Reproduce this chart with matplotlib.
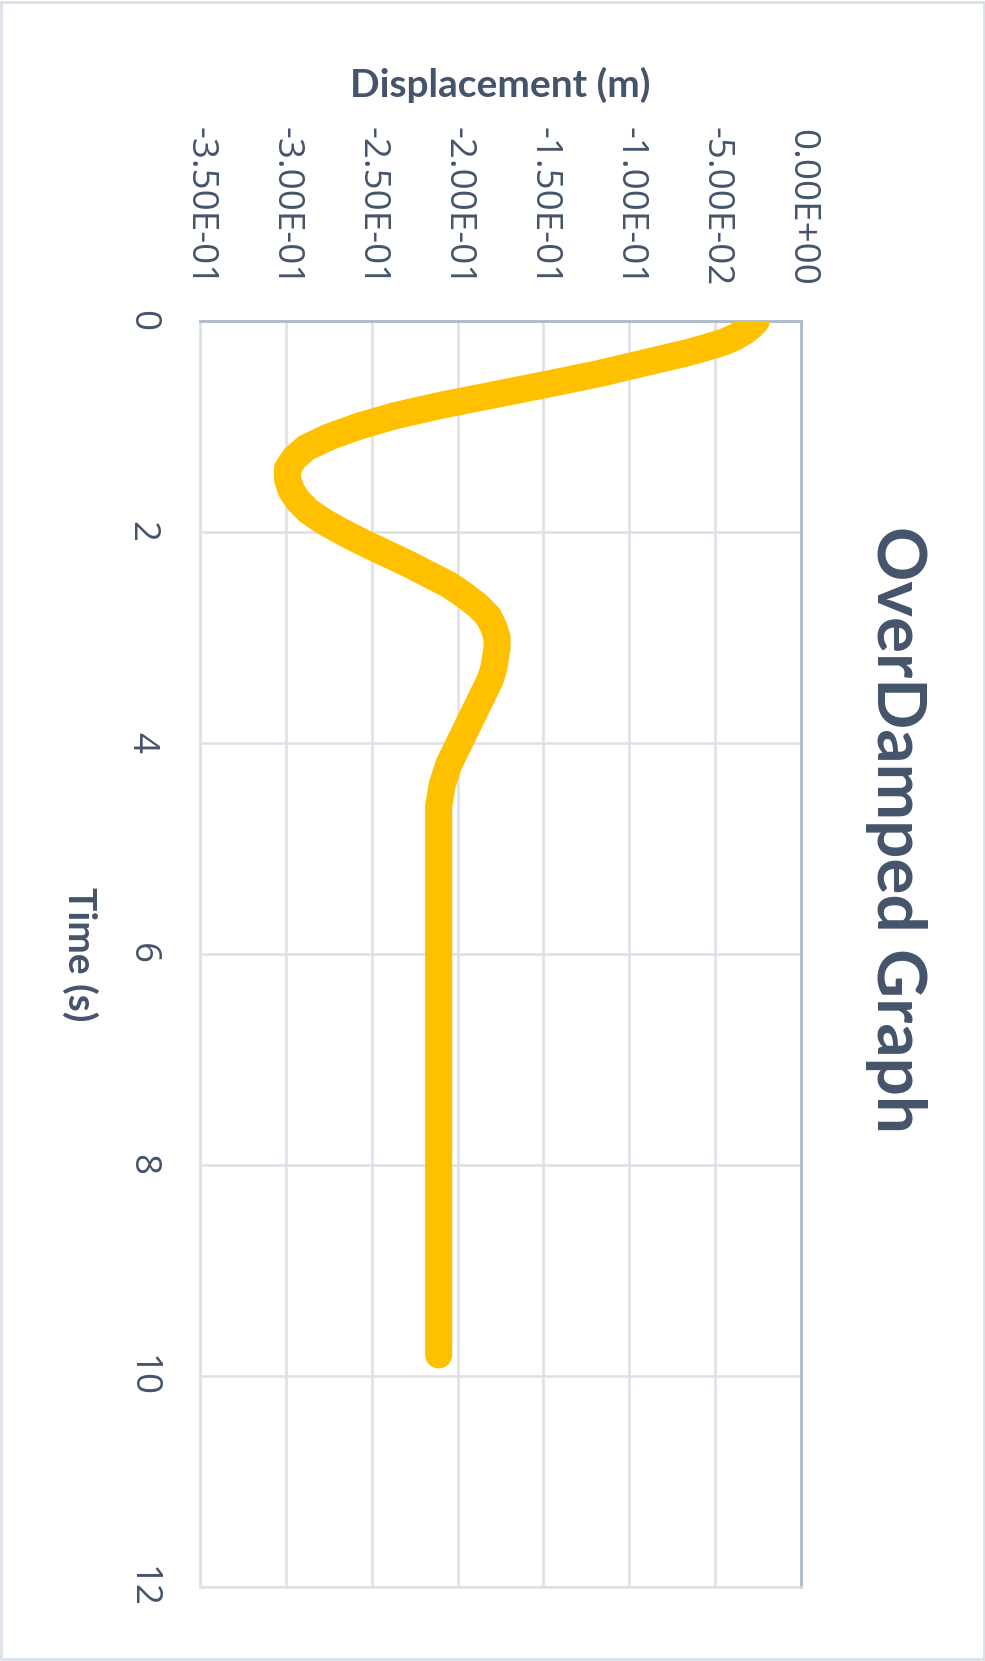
import matplotlib.pyplot as plt
from matplotlib.patches import Rectangle

# time (s) and displacement (m)
time_s = [0.0, 0.05, 0.1, 0.15, 0.2, 0.25, 0.3, 0.4, 0.5, 0.6, 0.7, 0.8, 0.9,
          1.0, 1.1, 1.2, 1.3, 1.4, 1.5, 1.6, 1.7, 1.8, 1.9,
          2.0, 2.1, 2.2, 2.3, 2.4, 2.5, 2.6, 2.7, 2.8, 2.9,
          3.0, 3.1, 3.2, 3.3, 3.4, 3.5, 3.6, 3.7, 3.8, 3.9,
          4.0, 4.1, 4.2, 4.3, 4.4, 4.5, 4.6, 4.8, 5.0, 5.2,
          5.4, 5.6, 5.8, 6.0, 6.2, 6.4, 6.6, 6.8, 7.0, 7.2,
          7.4, 7.6, 7.8, 8.0, 8.2, 8.4, 8.6, 8.8, 9.0, 9.2,
          9.4, 9.6, 9.8]
disp_m = [-0.026, -0.029, -0.033, -0.038, -0.045, -0.055, -0.066, -0.092, -0.118, -0.148,
          -0.179, -0.210, -0.237,
          -0.258, -0.275, -0.288, -0.295, -0.299, -0.299, -0.297, -0.293, -0.287, -0.278,
          -0.267, -0.255, -0.242, -0.229, -0.217, -0.205, -0.196, -0.188, -0.182, -0.179,
          -0.177, -0.177, -0.178, -0.179, -0.181, -0.184, -0.187, -0.190, -0.193, -0.196,
          -0.199, -0.202, -0.205, -0.207, -0.209, -0.210, -0.211, -0.211, -0.211, -0.211,
          -0.211, -0.211, -0.211, -0.211, -0.211, -0.211, -0.211, -0.211, -0.211, -0.211,
          -0.211, -0.211, -0.211, -0.211, -0.211, -0.211, -0.211, -0.211, -0.211, -0.211,
          -0.211, -0.211, -0.211]

disp_ticks = [-0.35, -0.30, -0.25, -0.20, -0.15, -0.10, -0.05, 0.0]
time_ticks = [0, 2, 4, 6, 8, 10, 12]

txt = '#44546A'
grid_c = '#DCE1E8'
axis_c = '#ADB9CA'

plt.rcParams['font.family'] = ['Open Sans', 'DejaVu Sans']

fig = plt.figure(figsize=(9.85, 16.61), dpi=100)
ax = fig.add_axes([0.2030, 0.04455, 0.6102, 0.7622])

ax.plot(disp_m, time_s, color='#FFC000', lw=19.5, solid_capstyle='round',
        solid_joinstyle='round', zorder=3)

ax.set_xlim(-0.35, 0)
ax.set_ylim(12, 0)
ax.set_xticks(disp_ticks)
ax.set_xticklabels([f'{v:.2E}' for v in disp_ticks])
ax.set_yticks(time_ticks)
ax.xaxis.tick_top()
ax.tick_params(axis='x', length=0, pad=25, labelsize=26.5, labelcolor=txt, labelrotation=270)
ax.tick_params(axis='y', length=0, pad=29, labelsize=26.5, labelcolor=txt, labelrotation=270)
for lab in ax.get_yticklabels():
    lab.set_va('center')

ax.grid(True, color=grid_c, lw=1.8)
ax.set_axisbelow(True)
for side in ['left', 'bottom']:
    ax.spines[side].set_color(grid_c)
    ax.spines[side].set_linewidth(1.8)
for side in ['top', 'right']:
    ax.spines[side].set_color(axis_c)
    ax.spines[side].set_linewidth(2)

ax.xaxis.set_label_position('top')
ax.set_xlabel('Displacement (m)', fontsize=28, fontweight='bold', color=txt, family='Lato')
ax.xaxis.set_label_coords(0.5, 1.1864)
ax.xaxis.label.set_va('center')
ax.set_ylabel('Time (s)', fontsize=28, fontweight='bold', color=txt, family='Lato', rotation=270)
ax.yaxis.set_label_coords(-0.1988, 0.5)
ax.yaxis.label.set_va('center')
ax.yaxis.label.set_ha('center')

fig.text(0.9096, 0.5009, 'OverDamped Graph', rotation=270, fontsize=48.5, fontweight='bold',
         color=txt, family='Lato', ha='center', va='center')

fig.patches.append(Rectangle((0.0015, 0.001), 0.997, 0.998, transform=fig.transFigure,
                             fill=False, ec=grid_c, lw=2))

fig.savefig('out.png', dpi=100)
